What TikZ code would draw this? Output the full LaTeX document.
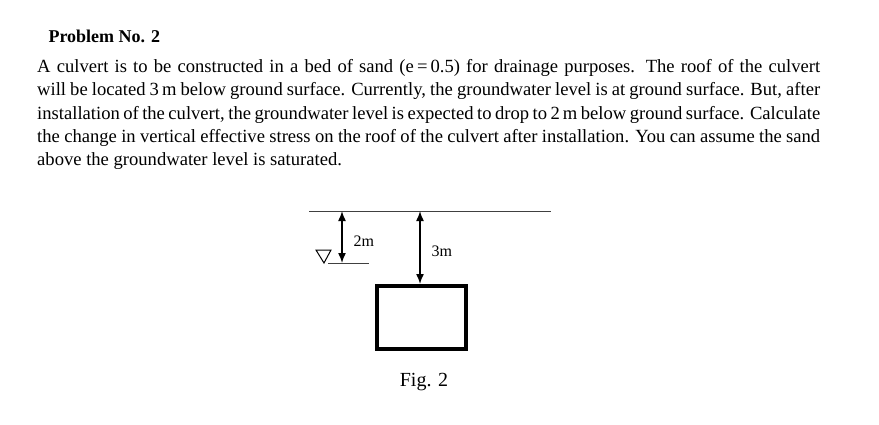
\documentclass[tikz,border=0pt]{standalone}
\usepackage{fontspec}
\setmainfont{Liberation Serif}
\usetikzlibrary{arrows.meta}
\begin{document}
\begin{tikzpicture}[x=1pt,y=-1pt,
  dim/.style={{Latex[length=10pt,width=8pt]}-{Latex[length=10pt,width=8pt]}, line width=1.5pt},
  thin/.style={line width=0.9pt, draw=black!75}]
\useasboundingbox (0,0) rectangle (879,424);
\node[anchor=base west, font=\fontsize{18}{20}\selectfont\bfseries] (title) at (45,42) {Problem No. 2};
\node[anchor=north west, inner sep=0pt, text width=783pt, align=justify, font=\fontsize{18.6}{23.4}\selectfont] (para) at (37,59)
{A culvert is to be constructed in a bed of sand (e\,=\,0.5) for drainage purposes. The roof of the culvert will be located 3\,m below ground surface. Currently, the groundwater level is at ground surface. But, after installation of the culvert, the groundwater level is expected to drop to 2\,m below ground surface. Calculate the change in vertical effective stress on the roof of the culvert after installation. You can assume the sand above the groundwater level is saturated.};
\coordinate (gl) at (309,211);
\coordinate (gr) at (551,211);
\draw[thin] (gl) -- (gr);
\coordinate (a2t) at (342,211);
\coordinate (a2b) at (342,263);
\draw[dim] (a2t) -- (a2b);
\coordinate (wl) at (328,263);
\coordinate (wr) at (369,263);
\draw[thin] (wl) -- (wr);
\draw[line width=1pt] (316,250) -- (331,250) -- (324,263) -- cycle;
\node[anchor=west, font=\fontsize{16}{18}\selectfont] (l2) at (350,241) {2m};
\node[draw, line width=4pt, minimum width=89pt, minimum height=63pt, inner sep=0pt] (box) at (421.5,317.5) {};
\coordinate (a3t) at (420,211);
\draw[dim] (a3t) -- (box.north -| a3t);
\node[anchor=west, font=\fontsize{16}{18}\selectfont] (l3) at (428,251) {3m};
\node[font=\fontsize{20}{22}\selectfont] (fig) at (424,382) {Fig. 2};
\end{tikzpicture}
\end{document}
